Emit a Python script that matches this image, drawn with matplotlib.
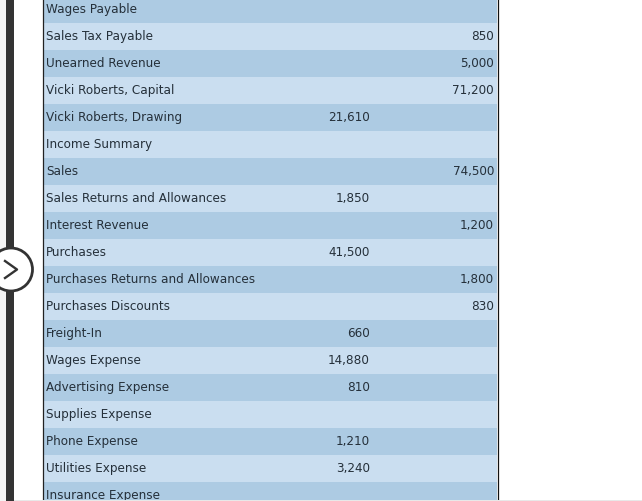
import matplotlib.pyplot as plt
from matplotlib.patches import Rectangle, Circle

# --- data ---
accounts = ['Wages Payable', 'Sales Tax Payable', 'Unearned Revenue', 'Vicki Roberts, Capital',
            'Vicki Roberts, Drawing', 'Income Summary', 'Sales', 'Sales Returns and Allowances',
            'Interest Revenue', 'Purchases', 'Purchases Returns and Allowances', 'Purchases Discounts',
            'Freight-In', 'Wages Expense', 'Advertising Expense', 'Supplies Expense',
            'Phone Expense', 'Utilities Expense', 'Insurance Expense']
debit = ['', '', '', '', '21,610', '', '', '1,850', '', '41,500', '', '', '660', '14,880', '810', '',
         '1,210', '3,240', '']
credit = ['', '850', '5,000', '71,200', '', '', '74,500', '', '1,200', '', '1,800', '830', '', '', '',
          '', '', '', '']

ROW_H = 27
TOP = 23 - ROW_H  # first row is cut off by the top of the window
TEXT_COLOR = '#25303a'
FS = 8.65

plt.rcParams['font.family'] = ['DejaVu Sans']

fig = plt.figure(figsize=(6.42, 5.01), dpi=100, facecolor='white')
ax = fig.add_axes([0, 0, 1, 1])
ax.set_xlim(0, 642)
ax.set_ylim(501, 0)
ax.axis('off')

# scrollbar strip on the left
ax.add_patch(Rectangle((0, 0), 6, 501, fc='#f4f4f4', ec='none'))
ax.add_patch(Rectangle((6, 0), 8, 501, fc='#333333', ec='none'))

# table rows
for i, name in enumerate(accounts):
    y = TOP + i * ROW_H
    color = '#adcbe3' if i % 2 == 0 else '#cadef0'
    ax.add_patch(Rectangle((43, y), 454, ROW_H, fc=color, ec='none'))
    base = y + ROW_H / 2 + 3.6
    ax.text(46, base, name, fontsize=FS, color=TEXT_COLOR, ha='left', va='baseline')
    if debit[i]:
        ax.text(370, base, debit[i], fontsize=FS, color=TEXT_COLOR, ha='right', va='baseline')
    if credit[i]:
        ax.text(494, base, credit[i], fontsize=FS, color=TEXT_COLOR, ha='right', va='baseline')

# table borders
ax.plot([42.5, 42.5], [0, 501], color='#222222', lw=0.9)
ax.plot([497.5, 497.5], [0, 501], color='#111111', lw=0.9)

# bottom edge of the window
ax.add_patch(Rectangle((14, 499.5), 628, 1.5, fc='#e8e8e8', ec='none', zorder=4))

# expand button
ax.add_patch(Circle((11, 269.5), 21.5, fc='white', ec='#333333', lw=2, zorder=5))
ax.plot([5, 17, 5], [261, 269.5, 278], color='#333333', lw=1.7, zorder=6)

plt.savefig('out.png', dpi=100)
